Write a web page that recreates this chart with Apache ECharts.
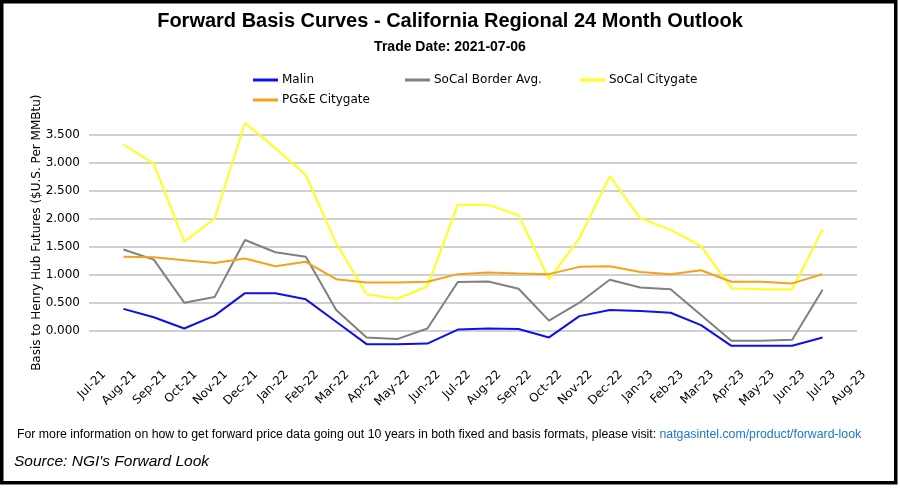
<!DOCTYPE html>
<html>
<head>
<meta charset="utf-8">
<script src="https://cdn.jsdelivr.net/npm/echarts@6/dist/echarts.min.js"></script>
<style>
html,body{margin:0;padding:0;background:#fff;}
#chart{width:900px;height:490px;}
</style>
</head>
<body>
<div id="chart"></div>
<script>
var categories = ['Jul-21','Aug-21','Sep-21','Oct-21','Nov-21','Dec-21','Jan-22','Feb-22','Mar-22','Apr-22','May-22','Jun-22','Jul-22','Aug-22','Sep-22','Oct-22','Nov-22','Dec-22','Jan-23','Feb-23','Mar-23','Apr-23','May-23','Jun-23','Jul-23','Aug-23'];
var malin = [null,0.39,0.24,0.04,0.27,0.67,0.67,0.56,0.16,-0.24,-0.24,-0.23,0.02,0.04,0.03,-0.12,0.26,0.37,0.35,0.32,0.10,-0.27,-0.27,-0.27,-0.12,null];
var socalBorder = [null,1.45,1.27,0.50,0.60,1.62,1.40,1.32,0.37,-0.12,-0.15,0.04,0.87,0.88,0.75,0.18,0.50,0.91,0.77,0.74,0.28,-0.18,-0.18,-0.16,0.73,null];
var socalCitygate = [null,3.33,2.98,1.59,2.00,3.71,3.26,2.78,1.56,0.65,0.57,0.79,2.25,2.25,2.06,0.92,1.65,2.76,2.01,1.80,1.51,0.76,0.74,0.74,1.81,null];
var pgeCitygate = [null,1.32,1.31,1.26,1.21,1.29,1.15,1.23,0.92,0.86,0.86,0.875,1.01,1.04,1.02,1.01,1.14,1.15,1.05,1.01,1.08,0.875,0.875,0.845,1.01,null];
var yMin = -0.5, yMax = 4.0, yStep = 0.5;

var chart = echarts.init(document.getElementById('chart'), null, {renderer:'canvas'});
var sans = 'DejaVu Sans';
var arial = 'Liberation Sans';
function mkSeries(name, data, color){
  return {name:name, type:'line', xAxisIndex:1, yAxisIndex:1, data:data, symbol:'none',
    lineStyle:{color:color, width:2}, itemStyle:{color:color}, connectNulls:false, animation:false};
}
var legendBase = {icon:'rect', itemWidth:25, itemHeight:3, itemGap:0,
  textStyle:{fontFamily:sans, fontSize:12, color:'#000', padding:[0,0,0,-1]}};
function mkLegend(name, left, top){
  return Object.assign({}, legendBase, {data:[name], left:left, top:top});
}
chart.setOption({
  backgroundColor:'#fff',
  animation:false,
  grid:[
    {left:89, right:43, top:106.7, bottom:131.3},
    {left:93, right:47, top:106.7, bottom:131.3},
    {left:104, right:36, top:106.7, bottom:131.3}
  ],
  xAxis:[
    {gridIndex:0, type:'category', data:categories, show:false},
    {gridIndex:1, type:'category', data:categories, boundaryGap:false,
      axisLine:{show:false}, axisTick:{show:false}, splitLine:{show:false}, axisLabel:{show:false}},
    {gridIndex:2, type:'category', data:categories, boundaryGap:false,
      axisLine:{show:false}, axisTick:{show:false}, splitLine:{show:false},
      axisLabel:{interval:0, rotate:45, fontFamily:sans, fontSize:12, color:'#000', margin:14}}
  ],
  yAxis:[
    {gridIndex:0, type:'value', min:yMin, max:yMax, interval:yStep,
      name:'Basis to Henry Hub Futures ($U.S. Per MMBtu)', nameLocation:'middle', nameGap:46,
      nameMoveOverlap:false,
      nameTextStyle:{fontFamily:sans, fontSize:12, color:'#000'},
      axisLine:{show:false}, axisTick:{show:false},
      axisLabel:{fontFamily:sans, fontSize:12, color:'#000', margin:9, showMinLabel:false, showMaxLabel:false,
        formatter:function(v){return v.toFixed(3);}},
      splitLine:{show:true, showMinLine:false, showMaxLine:false, lineStyle:{color:'#c0c0c0', width:1.5}}},
    {gridIndex:1, type:'value', min:yMin, max:yMax, interval:yStep, show:false, splitLine:{show:false}},
    {gridIndex:2, type:'value', min:yMin, max:yMax, interval:yStep, show:false, splitLine:{show:false}}
  ],
  legend:[
    mkLegend('Malin', 248, 69),
    mkLegend('SoCal Border Avg.', 400, 69),
    mkLegend('SoCal Citygate', 575, 69),
    mkLegend('PG&E Citygate', 248, 89)
  ],
  series:[
    mkSeries('Malin', malin, '#1010e6'),
    mkSeries('SoCal Border Avg.', socalBorder, '#808080'),
    mkSeries('SoCal Citygate', socalCitygate, '#ffff1a'),
    mkSeries('PG&E Citygate', pgeCitygate, '#f7a11a')
  ],
  graphic:[
    {type:'rect', silent:true, z:100, shape:{x:1.75, y:1.75, width:894, height:481},
      style:{fill:'none', stroke:'#000', lineWidth:3.5}},
    {type:'text', left:'center', top:11, style:{text:'Forward Basis Curves - California Regional 24 Month Outlook',
      font:'bold 20px "Liberation Sans"', fill:'#000'}},
    {type:'text', left:'center', top:40, style:{text:'Trade Date: 2021-07-06',
      font:'bold 14px "Liberation Sans"', fill:'#000'}},
    {type:'text', left:17, top:429, style:{
      text:'{a|For more information on how to get forward price data going out 10 years in both fixed and basis formats, please visit: }{b|natgasintel.com/product/forward-look}',
      rich:{a:{fontFamily:arial, fontSize:12.3, fill:'#000'}, b:{fontFamily:arial, fontSize:12.3, fill:'#1f77c8'}}}},
    {type:'text', left:14, top:454, style:{text:"Source: NGI's Forward Look",
      font:'italic 15.5px "Liberation Sans"', fill:'#000'}}
  ]
});
</script>
</body>
</html>
